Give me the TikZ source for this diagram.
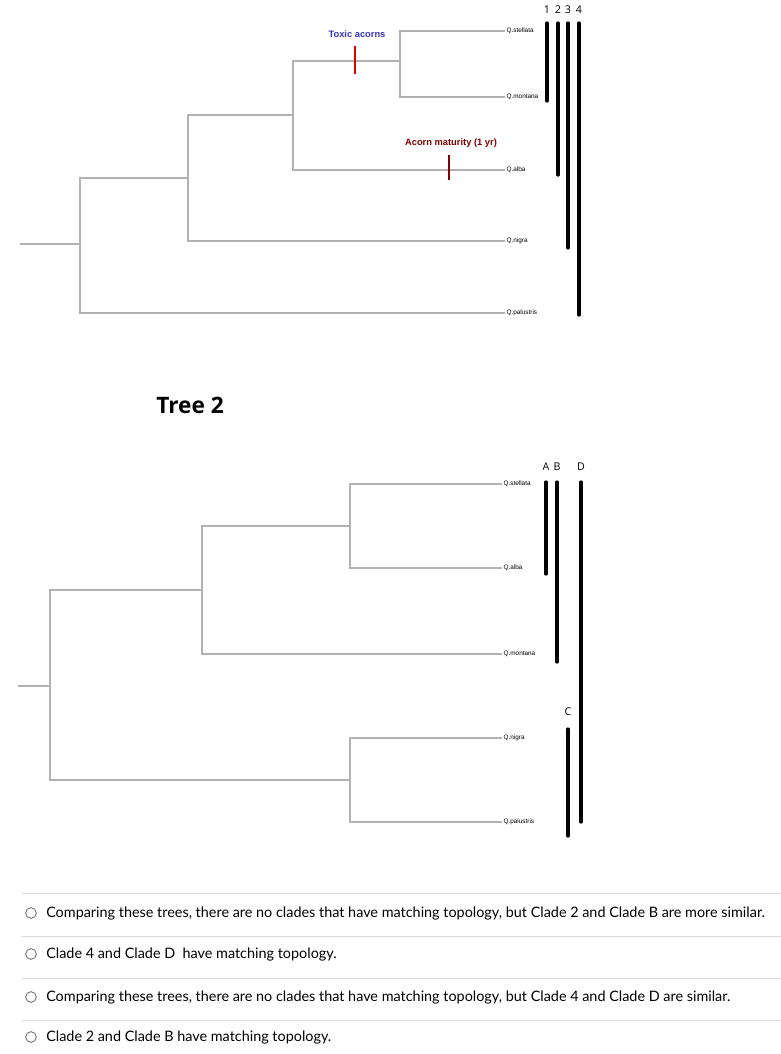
\documentclass[tikz,border=0pt]{standalone}
\usepackage{fontspec}
\setmainfont{Lato}
\setsansfont{Liberation Sans}
\newfontfamily\condfont{Open Sans}
\begin{document}
\begin{tikzpicture}[x=0.75pt,y=-0.75pt,
  br/.style={draw=black!30,line width=0.8pt},
  tip/.style={font=\sffamily\fontsize{4.8}{5}\selectfont,anchor=west,inner sep=1pt},
  clade/.style={line width=2.4pt,line cap=round},
  clab/.style={font=\condfont\fontsize{8}{9}\selectfont},
  opt/.style={font=\fontsize{10.8}{12}\selectfont,anchor=west,inner sep=0pt},
  radio/.style={draw=black!60,circle,minimum size=8pt,inner sep=0pt,line width=0.6pt},
  sep/.style={draw=black!15,line width=0.6pt}]
\useasboundingbox (0,0) rectangle (781,1054);
% Tree 1
\node[tip] (s1) at (505,31) {Q.stellata};
\node[tip] (m1) at (505,97) {Q.montana};
\node[tip] (a1) at (505,170) {Q.alba};
\node[tip] (n1) at (505,241) {Q.nigra};
\node[tip] (p1) at (505,313) {Q.palustris};
\draw[br] (s1.west) -- (400,31) -- (400,97) -- (m1.west);
\draw[br] (400,61) -- (293,61) -- (293,170) -- (a1.west);
\draw[br] (293,115) -- (188,115) -- (188,241) -- (n1.west);
\draw[br] (188,178) -- (80,178) -- (80,313) -- (p1.west);
\draw[br] (80,244) -- (20,244);
\draw[line width=2.2pt,red!85!black] (355,46) -- (355,74);
\node[font=\sffamily\bfseries\fontsize{7}{8}\selectfont,text=blue!70!black!80] (tox) at (357,34) {Toxic acorns};
\draw[line width=2.2pt,red!50!black] (449,155) -- (449,180);
\node[font=\sffamily\bfseries\fontsize{7}{8}\selectfont,text=red!50!black] (acm) at (451,143) {Acorn maturity (1 yr)};
\foreach \x/\y/\l in {547/101/1,558/175/2,568/248/3,579/315/4}{
  \draw[clade] (\x,23) -- (\x,\y);
  \node[clab] at (\x,10) {\l};}
% Tree 2
\node[font=\condfont\bfseries\fontsize{17}{20}\selectfont] (t2) at (190,405) {Tree 2};
\node[tip] (s2) at (502,484) {Q.stellata};
\node[tip] (a2) at (502,568) {Q.alba};
\node[tip] (m2) at (502,654) {Q.montana};
\node[tip] (n2) at (502,738) {Q.nigra};
\node[tip] (p2) at (502,822) {Q.palustris};
\draw[br] (s2.west) -- (350,484) -- (350,568) -- (a2.west);
\draw[br] (350,526) -- (202,526) -- (202,654) -- (m2.west);
\draw[br] (n2.west) -- (350,738) -- (350,822) -- (p2.west);
\draw[br] (202,590) -- (50,590) -- (50,780) -- (350,780);
\draw[br] (50,686) -- (18,686);
\draw[clade] (546,482) -- (546,574);
\draw[clade] (557,482) -- (557,662);
\draw[clade] (581,482) -- (581,822);
\draw[clade] (568,729) -- (568,836);
\node[clab] at (546,467) {A};
\node[clab] at (557,467) {B};
\node[clab] at (581,467) {D};
\node[clab] at (568,712) {C};
% options
\foreach \y in {893,936,978,1020}{\draw[sep] (22,\y) -- (781,\y);}
\foreach \y/\t in {913/{Comparing these trees, there are no clades that have matching topology, but Clade 2 and Clade B are more similar.},
  954/{Clade 4 and Clade D\ \ have matching topology.},
  997/{Comparing these trees, there are no clades that have matching topology, but Clade 4 and Clade D are similar.},
  1037/{Clade 2 and Clade B have matching topology.}}{
  \node[radio] at (31,\y) {};
  \node[opt] at (46,\y) {\t};}
\end{tikzpicture}
\end{document}
